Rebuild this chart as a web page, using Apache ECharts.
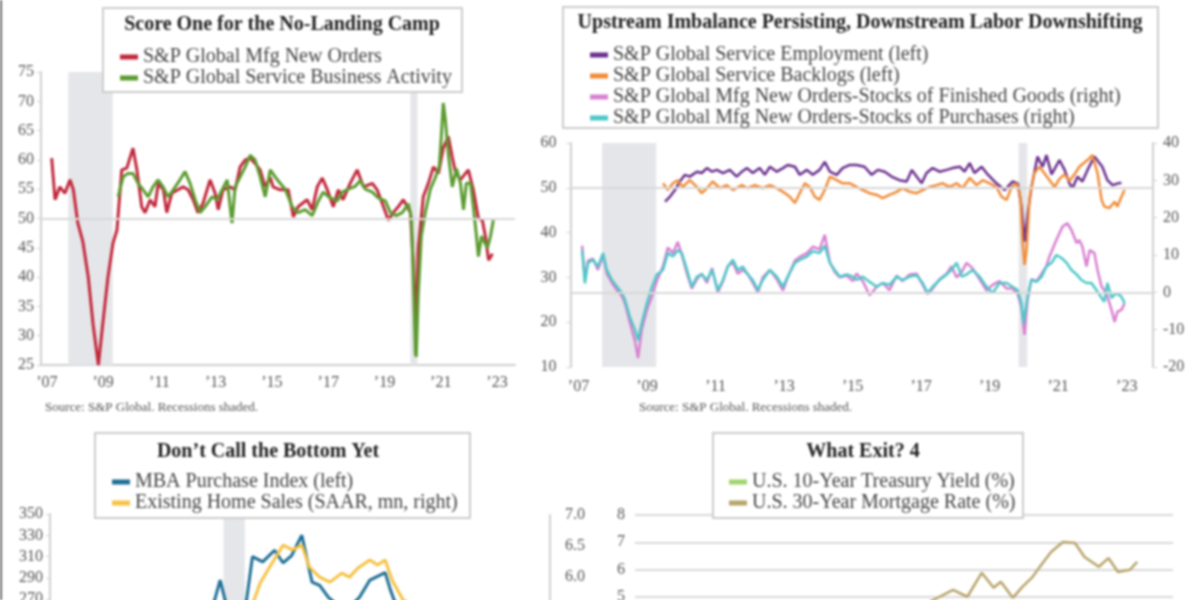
<!DOCTYPE html>
<html>
<head>
<meta charset="utf-8">
<script src="https://cdn.jsdelivr.net/npm/echarts@6/dist/echarts.min.js"></script>
<style>
  html, body { margin: 0; padding: 0; background: #fff; overflow: hidden; }
  #chart { width: 1200px; height: 820px; filter: blur(1.1px); }
</style>
</head>
<body>
<div id="chart"></div>
<script>
// ---- top left: S&P Global PMIs ----
const mfgOrdersYears = [2007.33,2007.45,2007.62,2007.80,2007.98,2008.10,2008.26,2008.44,2008.63,2008.80,2008.99,2009.15,2009.33,2009.51,2009.65,2009.82,2010.00,2010.22,2010.36,2010.53,2010.65,2010.83,2011.00,2011.12,2011.30,2011.42,2011.60,2011.82,2012.00,2012.18,2012.36,2012.53,2012.71,2012.96,2013.14,2013.25,2013.42,2013.67,2013.85,2014.03,2014.21,2014.39,2014.56,2014.74,2014.92,2015.10,2015.20,2015.45,2015.74,2015.92,2016.09,2016.41,2016.59,2016.77,2016.95,2017.13,2017.34,2017.52,2017.69,2017.94,2018.19,2018.41,2018.73,2018.90,2019.08,2019.30,2019.47,2019.65,2019.83,2019.97,2020.08,2020.19,2020.27,2020.36,2020.54,2020.72,2020.90,2021.08,2021.25,2021.43,2021.57,2021.68,2021.86,2022.14,2022.32,2022.50,2022.64,2022.75,2022.86,2023.00];
const mfgOrders = [60.3,53.2,55.4,54.3,56.6,54.9,49.2,46,40,32,25,32.2,40,45.8,48,58.3,58.6,62,58.3,52,51,53.2,52,56,54.9,51,54.3,54.9,55.4,54.9,53.2,51,52.6,56.6,54.3,51.5,54.9,55.4,54.9,58.8,60,60.3,59.4,58.3,55.4,57,55.4,54.9,54.9,50.3,52,53.2,51.5,55.4,56.9,54.9,52,54.9,53.2,56,58.3,55.4,56,54.9,52.6,49.7,51,52,53.2,52,51,42,30,45,53.7,56,58.8,57.7,62,64,60.5,58,56.6,58.3,54.9,50,49.7,46.9,42.9,44];
const svcActivityYears = [2009.69,2009.87,2010.04,2010.22,2010.40,2010.58,2010.76,2010.93,2011.11,2011.29,2011.47,2011.65,2011.89,2012.07,2012.25,2012.43,2012.61,2012.78,2013.03,2013.21,2013.39,2013.57,2013.74,2013.85,2014.03,2014.21,2014.39,2014.56,2014.74,2014.92,2015.10,2015.35,2015.63,2015.88,2016.09,2016.34,2016.59,2016.81,2016.98,2017.23,2017.48,2017.66,2017.87,2018.12,2018.30,2018.48,2018.73,2018.94,2019.19,2019.37,2019.58,2019.79,2020.01,2020.12,2020.19,2020.26,2020.29,2020.36,2020.47,2020.61,2020.79,2020.97,2021.11,2021.18,2021.25,2021.32,2021.43,2021.57,2021.72,2021.86,2021.97,2022.07,2022.22,2022.32,2022.43,2022.50,2022.61,2022.71,2022.82,2022.93,2023.03];
const svcActivity = [53.7,57.1,57.7,57.7,56,54.9,53.7,55.4,56.6,55.4,53.7,54.9,56.6,58,56,53.2,51,52,53.7,53.2,54.9,56.6,49.2,55.4,57.1,58.8,60.8,60,57.1,53.7,58.3,56.6,55,52,51,51.5,50.5,53,54.5,53.5,53,54.5,55,55.5,56.5,55,54.5,53.5,53,51,50.5,51,52.5,50,39,27,26.4,37,47,51,55,57,59,64,69.7,67,61,55.4,58.5,56,51.5,56,56,52,47,43.5,47,46,45,47,49.7];

// ---- top right ----
const svcEmploymentYears = [2009.76,2009.90,2010.05,2010.19,2010.34,2010.48,2010.69,2010.83,2010.98,2011.13,2011.27,2011.45,2011.65,2011.85,2012.00,2012.15,2012.32,2012.52,2012.67,2012.82,2013.02,2013.20,2013.34,2013.55,2013.69,2013.90,2014.07,2014.27,2014.42,2014.57,2014.77,2014.94,2015.15,2015.35,2015.58,2015.79,2015.97,2016.17,2016.37,2016.60,2016.81,2016.96,2017.10,2017.25,2017.39,2017.57,2017.77,2017.98,2018.15,2018.36,2018.50,2018.65,2018.79,2019.00,2019.14,2019.43,2019.67,2019.90,2020.05,2020.16,2020.25,2020.34,2020.45,2020.63,2020.78,2020.89,2021.04,2021.27,2021.42,2021.56,2021.65,2021.80,2021.94,2022.09,2022.29,2022.52,2022.67,2022.82,2022.98,2023.08];
const svcEmployment = [46.9,48,49.5,51.4,52.9,52.5,53.6,53.3,54.4,53.6,54,53.3,54,52.5,53.6,54.4,53.3,54.4,52.9,54.7,53.6,54.4,55.1,54.7,52.9,54,52.9,54,55.8,53.6,52.9,54.4,55.1,55.1,54.7,52.9,54,53.6,52.5,51.7,51.4,54,52.5,51,53.3,54.4,53.6,54,54.4,54.7,53.6,55.5,53.3,54.7,53.3,51,49.5,51.4,51,46,38,44,50,57,54.7,57.3,53,56.2,54,51,49.9,52.5,51.4,54,57,54.7,51.7,50.6,51,51.1];
const svcBacklogsYears = [2009.70,2009.84,2009.99,2010.13,2010.28,2010.48,2010.69,2010.83,2010.98,2011.15,2011.36,2011.56,2011.74,2012.00,2012.17,2012.38,2012.61,2012.82,2013.02,2013.20,2013.40,2013.55,2013.69,2013.84,2013.98,2014.13,2014.27,2014.42,2014.57,2014.77,2014.94,2015.15,2015.35,2015.53,2015.73,2015.94,2016.11,2016.31,2016.52,2016.69,2016.90,2017.10,2017.28,2017.48,2017.68,2017.86,2018.06,2018.27,2018.44,2018.65,2018.85,2019.03,2019.23,2019.43,2019.58,2019.73,2019.87,2020.02,2020.13,2020.19,2020.25,2020.31,2020.40,2020.54,2020.69,2020.98,2021.13,2021.27,2021.42,2021.56,2021.71,2021.85,2022.09,2022.23,2022.38,2022.50,2022.58,2022.73,2022.88,2022.96,2023.08,2023.17];
const svcBacklogs = [51,49.5,51,51.7,50.2,51.7,50.2,48.8,49.9,51.4,49.9,50.6,49.5,50.6,49.9,50.6,49.9,50.6,49.9,49.1,48,46.6,48.8,51,50.2,48,47.3,49.5,52.5,51.7,51,51,50.2,49.5,48.8,48.4,47.7,48.4,49.1,49.9,49.1,48.8,49.5,50.2,50.6,51,50.2,51,49.9,52.2,50.6,51.7,51,50.2,48,47.3,50.2,51,48,38.3,32.8,36.1,48,53.3,54.7,51.7,50.2,52,53,51.5,53,54.7,56.2,57.3,53.3,47.3,45.8,45.5,46.9,45.8,48,49.5];
const finishedGoodsYears = [2007.34,2007.42,2007.51,2007.66,2007.80,2007.95,2008.06,2008.21,2008.36,2008.50,2008.59,2008.73,2008.88,2008.97,2009.08,2009.23,2009.38,2009.52,2009.70,2009.84,2009.99,2010.13,2010.25,2010.40,2010.54,2010.69,2010.83,2010.98,2011.13,2011.30,2011.45,2011.59,2011.74,2011.88,2012.03,2012.17,2012.32,2012.47,2012.61,2012.82,2013.02,2013.20,2013.34,2013.55,2013.69,2013.90,2014.07,2014.27,2014.42,2014.57,2014.71,2014.86,2015.06,2015.24,2015.35,2015.53,2015.73,2015.94,2016.11,2016.31,2016.52,2016.69,2016.90,2017.10,2017.28,2017.42,2017.57,2017.77,2017.98,2018.12,2018.27,2018.42,2018.56,2018.73,2018.94,2019.14,2019.32,2019.52,2019.73,2019.90,2020.05,2020.16,2020.25,2020.34,2020.45,2020.60,2020.75,2020.89,2020.98,2021.18,2021.36,2021.50,2021.62,2021.77,2021.85,2021.94,2022.06,2022.15,2022.29,2022.38,2022.50,2022.64,2022.79,2022.88,2022.96,2023.08,2023.17];
const finishedGoods = [12.5,3.5,8.5,9,6,10,5,2.5,0.5,-1,-3,-8,-13,-17.6,-10,-4.7,-1,3,7,12,10.5,13.5,10,5,1,3.5,5,2.5,6.5,0,3,7,8,5,6,5,2.5,0,4,6,3.5,0.5,4,8.5,9.5,10.5,12.2,11.5,15.4,8,5.5,4,4.5,3,5,3,-0.8,1.5,2.5,0.6,4.5,3,4.8,5,2,-0.5,1,3.5,5,7,4,5.5,7.9,6.5,3.5,0.5,2,3,1,1,-0.5,-4,-11.4,-2,3.5,3,5,7,9.6,14,17.6,18.5,16.7,13.2,14,12.2,6.9,11.3,10.5,6,1.5,-0.2,-4.7,-7.9,-5.2,-4.7,-2.9];
const purchasesYears = [2007.34,2007.42,2007.51,2007.66,2007.80,2007.95,2008.06,2008.21,2008.36,2008.50,2008.59,2008.73,2008.88,2008.97,2009.08,2009.23,2009.38,2009.52,2009.70,2009.84,2009.99,2010.13,2010.25,2010.40,2010.54,2010.69,2010.83,2010.98,2011.13,2011.30,2011.45,2011.59,2011.74,2011.88,2012.03,2012.17,2012.32,2012.47,2012.61,2012.82,2013.02,2013.20,2013.34,2013.55,2013.69,2013.90,2014.07,2014.27,2014.42,2014.57,2014.71,2014.86,2015.06,2015.24,2015.35,2015.53,2015.73,2015.94,2016.11,2016.31,2016.52,2016.69,2016.90,2017.10,2017.28,2017.42,2017.57,2017.77,2017.98,2018.12,2018.27,2018.42,2018.56,2018.73,2018.94,2019.14,2019.32,2019.52,2019.73,2019.90,2020.05,2020.16,2020.22,2020.34,2020.45,2020.60,2020.75,2020.89,2021.04,2021.18,2021.33,2021.48,2021.62,2021.77,2021.91,2022.06,2022.20,2022.35,2022.50,2022.58,2022.67,2022.79,2022.93,2023.08,2023.17];
const purchases = [11.3,2.4,7.9,8.7,6.9,10.5,6,3.3,1.5,-0.2,-2,-6.5,-10,-12.8,-8.2,-2.9,1.5,4.8,6,10.5,9.6,11.3,10.5,6,1.5,4.2,4.8,3.3,6,0.6,3.3,6.9,8.7,6,6.9,4.8,3.3,0.6,3.3,6,4.2,1.5,4.2,7.9,8.7,9.6,11,10.5,12.5,7.9,6,4.2,4.8,4.2,3.3,4.2,2.8,1.5,2.5,2,4.2,3.3,4.2,4.6,2.5,-0.2,1.5,3.3,4.8,6,7.9,4.2,4.8,6,4.2,1.5,-0.2,2.5,2.5,1.5,0.6,-2.9,-8.2,-1.2,3.3,2.8,4.2,6.9,7.9,10,9.2,7.9,6,4.8,3.3,2.5,2.5,0.6,-1.5,-2.5,2.5,-1.5,-0.2,-1.2,-2.9];

// ---- bottom left: housing ----
const mbaYears = [2018.10,2018.60,2019.00,2019.20,2019.29,2019.40,2019.60,2019.80,2019.95,2020.04,2020.12,2020.22,2020.30,2020.42,2020.54,2020.68,2020.78,2020.88,2021.00,2021.12,2021.21,2021.31,2021.45,2021.56,2021.68,2021.80,2021.98,2022.04,2022.15,2022.35,2022.55,2022.75,2022.95,2023.05];
const mbaPurchase = [245,250,248,252,259,254,250,255,262,288,262,205,240,310,305,316,304,311,330,286,283,272,262,262,272,288,295,279,255,225,200,170,165,175];
const homeSalesYears = [2020.30,2020.42,2020.51,2020.62,2020.78,2020.89,2021.00,2021.09,2021.21,2021.33,2021.47,2021.56,2021.66,2021.80,2021.89,2021.98,2022.06,2022.19,2022.40,2022.65,2022.90];
const homeSales = [3.9,4.6,5.41,6.0,6.83,6.65,6.83,6.0,5.63,5.44,5.78,5.63,5.97,6.27,6.08,6.27,5.52,4.77,4.4,4.0,3.9];

// ---- bottom right: rates ----
const treasuryYears = [];
const treasury10y = [];
const mortgageYears = [2022.15,2022.25,2022.33,2022.39,2022.45,2022.50,2022.53,2022.58,2022.62,2022.66,2022.69,2022.74,2022.79,2022.84,2022.88,2022.94,2022.98,2023.02,2023.07,2023.10];
const mortgage30y = [4.4,4.89,5.25,5.0,5.88,5.33,5.55,4.96,5.36,5.7,6.06,6.64,7.01,6.97,6.46,6.1,6.42,5.91,5.99,6.28];

const recessions = [[2007.92, 2009.5], [2020.08, 2020.33]];
const yearTicks = [2007,2009,2011,2013,2015,2017,2019,2021,2023];

function pairs(xs, ys) { return xs.map((x, i) => [x, ys[i]]); }
const serif = "'Liberation Serif', serif";
const axisGray = '#cfcfcf';
const labelGray = '#555';
const shade = '#e5e6e9';

function yearLabel(v) { return '\u2019' + String(Math.round(v)).slice(2); }

function yAxisBase(extra) {
  return Object.assign({
    type: 'value',
    axisLine: { show: true, lineStyle: { color: axisGray, width: 2 } },
    axisTick: { show: true, length: 4, lineStyle: { color: axisGray } },
    splitLine: { show: false }
  }, extra);
}
function lbl(extra) { return Object.assign({ color: labelGray, fontFamily: serif, fontSize: 16 }, extra); }
function legendAt(names, left, top) {
  return { data: names, left: left, top: top, orient: 'vertical', itemGap: 1, icon: 'rect',
    itemWidth: 18, itemHeight: 5, selectedMode: false,
    textStyle: { fontFamily: serif, fontSize: 20, lineHeight: 20, color: '#444' } };
}
function box(x, y, w, h) {
  return { type: 'rect', shape: { x: x, y: y, width: w, height: h }, style: { fill: '#fff', stroke: '#cccccc', lineWidth: 2 }, z: 3 };
}
function heading(text, x, y) {
  return { type: 'text', x: x, y: y, z: 10, style: { text: text, font: 'bold 20px ' + serif, fill: '#222', textAlign: 'center', textVerticalAlign: 'middle' } };
}
const refLine = v => ({ silent: true, symbol: 'none', label: { show: false }, lineStyle: { color: '#d8d8d8', width: 2, type: 'solid' }, data: [{ yAxis: v }] });
const shading = list => ({ silent: true, itemStyle: { color: shade }, data: list.map(r => [{ xAxis: r[0] }, { xAxis: r[1] }]) });

const chart = echarts.init(document.getElementById('chart'));
chart.setOption({
  backgroundColor: '#fff',
  animation: false,
  grid: [
    { left: 41, top: 72, width: 474, height: 293, outerBoundsMode: 'none' },
    { left: 570.5, top: 143, width: 582.5, height: 224, outerBoundsMode: 'none' },
    { left: 50, top: 514, width: 439, height: 213, outerBoundsMode: 'none' },
    { left: 635, top: 515, width: 538, height: 218, outerBoundsMode: 'none' }
  ],
  xAxis: [
    { type: 'value', gridIndex: 0, min: 2006.95, max: 2023.8,
      axisLine: { lineStyle: { color: axisGray, width: 2 } }, axisTick: { show: false }, splitLine: { show: false },
      axisLabel: lbl({ customValues: yearTicks, formatter: yearLabel, margin: 10, padding: [0, 0, 0, 9] }) },
    { type: 'value', gridIndex: 1, min: 2007, max: 2024,
      axisLine: { lineStyle: { color: axisGray, width: 2 } }, axisTick: { show: false }, splitLine: { show: false },
      axisLabel: lbl({ customValues: yearTicks, formatter: yearLabel, margin: 12, padding: [0, 0, 0, 16] }) },
    { type: 'value', gridIndex: 2, min: 2018.04, max: 2023.2, show: false },
    { type: 'value', gridIndex: 3, min: 2021, max: 2023.25, show: false }
  ],
  yAxis: [
    yAxisBase({ gridIndex: 0, min: 25, max: 75, interval: 5, axisLabel: lbl({ margin: 7 }) }),
    yAxisBase({ gridIndex: 1, min: 10, max: 60, interval: 10, axisLabel: lbl({ margin: 14 }) }),
    yAxisBase({ gridIndex: 1, position: 'right', min: -20, max: 40, interval: 10, axisLabel: lbl({ margin: 10 }) }),
    yAxisBase({ gridIndex: 2, min: 150, max: 350, interval: 20, axisLabel: lbl({ margin: 7 }) }),
    { type: 'value', gridIndex: 2, position: 'right', min: 0, max: 8, show: false },
    { type: 'value', gridIndex: 3, min: 0, max: 8, interval: 1,
      axisLine: { show: false }, axisTick: { show: false },
      splitLine: { show: true, lineStyle: { color: '#d9d9d9', width: 2 } },
      axisLabel: lbl({ margin: 10 }) },
    // outer 10-year scale: labels sit right of its own axis line
    { type: 'value', gridIndex: 3, position: 'left', offset: 42, min: 3.5, max: 7, interval: 0.5,
      axisLine: { show: false }, axisTick: { show: false }, splitLine: { show: false },
      axisLabel: lbl({ margin: 8, formatter: v => v.toFixed(1) }) },
    { type: 'value', gridIndex: 3, position: 'left', offset: 85, min: 3.5, max: 7,
      axisLine: { show: true, lineStyle: { color: axisGray, width: 2 } }, axisTick: { show: false },
      axisLabel: { show: false }, splitLine: { show: false } }
  ],
  legend: [
    legendAt(['S&P Global Mfg New Orders', 'S&P Global Service Business Activity'], 115, 42),
    legendAt(['S&P Global Service Employment (left)', 'S&P Global Service Backlogs (left)', 'S&P Global Mfg New Orders-Stocks of Finished Goods (right)', 'S&P Global Mfg New Orders-Stocks of Purchases (right)'], 585, 40),
    legendAt(['MBA Purchase Index (left)', 'Existing Home Sales (SAAR, mn, right)'], 107, 467),
    legendAt(['U.S. 10-Year Treasury Yield (%)', 'U.S. 30-Year Mortgage Rate (%)'], 724, 467)
  ],
  graphic: [
    { type: 'line', shape: { x1: 1, y1: 0, x2: 1, y2: 600 }, style: { stroke: '#666', lineWidth: 2 }, z: 20 },
    box(103, 8, 359, 84),
    box(563, 7, 595, 121),
    box(95, 433, 375, 85),
    box(713, 433, 310, 85),
    heading('Score One for the No-Landing Camp', 282, 25),
    heading('Upstream Imbalance Persisting, Downstream Labor Downshifting', 860, 23),
    heading('Don\u2019t Call the Bottom Yet', 268, 452),
    heading('What Exit? 4', 863, 452),
    { type: 'text', x: 45, y: 408, z: 10, style: { text: 'Source: S&P Global. Recessions shaded.', font: '13px ' + serif, fill: '#555', textVerticalAlign: 'middle' } },
    { type: 'text', x: 639, y: 408, z: 10, style: { text: 'Source: S&P Global. Recessions shaded.', font: '13px ' + serif, fill: '#555', textVerticalAlign: 'middle' } }
  ],
  series: [
    { name: 'S&P Global Mfg New Orders', type: 'line', xAxisIndex: 0, yAxisIndex: 0, showSymbol: false,
      data: pairs(mfgOrdersYears, mfgOrders), color: '#c2283c', lineStyle: { width: 3 },
      markArea: shading(recessions), markLine: refLine(50) },
    { name: 'S&P Global Service Business Activity', type: 'line', xAxisIndex: 0, yAxisIndex: 0, showSymbol: false,
      data: pairs(svcActivityYears, svcActivity), color: '#5b9b2f', lineStyle: { width: 3 } },
    { name: 'S&P Global Service Employment (left)', type: 'line', xAxisIndex: 1, yAxisIndex: 1, showSymbol: false,
      data: pairs(svcEmploymentYears, svcEmployment), color: '#6a2f8e', lineStyle: { width: 2.5 },
      markArea: shading(recessions), markLine: refLine(50) },
    { name: 'S&P Global Service Backlogs (left)', type: 'line', xAxisIndex: 1, yAxisIndex: 1, showSymbol: false,
      data: pairs(svcBacklogsYears, svcBacklogs), color: '#f08b36', lineStyle: { width: 2.5 } },
    { name: 'S&P Global Mfg New Orders-Stocks of Finished Goods (right)', type: 'line', xAxisIndex: 1, yAxisIndex: 2, showSymbol: false,
      data: pairs(finishedGoodsYears, finishedGoods), color: '#d880d0', lineStyle: { width: 2.5 }, markLine: refLine(0) },
    { name: 'S&P Global Mfg New Orders-Stocks of Purchases (right)', type: 'line', xAxisIndex: 1, yAxisIndex: 2, showSymbol: false,
      data: pairs(purchasesYears, purchases), color: '#4dc7c8', lineStyle: { width: 2.5 } },
    { name: 'MBA Purchase Index (left)', type: 'line', xAxisIndex: 2, yAxisIndex: 3, showSymbol: false,
      data: pairs(mbaYears, mbaPurchase), color: '#1e6f96', lineStyle: { width: 3 },
      markArea: shading([recessions[1]]) },
    { name: 'Existing Home Sales (SAAR, mn, right)', type: 'line', xAxisIndex: 2, yAxisIndex: 4, showSymbol: false,
      data: pairs(homeSalesYears, homeSales), color: '#f6c244', lineStyle: { width: 3 } },
    { name: 'U.S. 10-Year Treasury Yield (%)', type: 'line', xAxisIndex: 3, yAxisIndex: 6, showSymbol: false,
      data: pairs(treasuryYears, treasury10y), color: '#9fd46c', lineStyle: { width: 2.5 } },
    { name: 'U.S. 30-Year Mortgage Rate (%)', type: 'line', xAxisIndex: 3, yAxisIndex: 5, showSymbol: false,
      data: pairs(mortgageYears, mortgage30y), color: '#b7a46b', lineStyle: { width: 2.5 } }
  ]
});
</script>
</body>
</html>
